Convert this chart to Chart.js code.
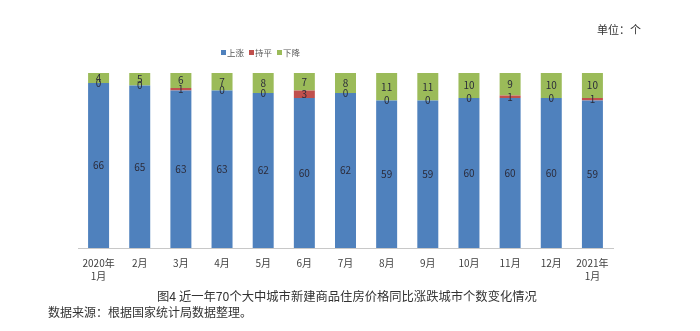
<!DOCTYPE html>
<html>
<head>
<meta charset="utf-8">
<script src="https://cdn.jsdelivr.net/npm/chart.js@4"></script>
<style>
  body { margin: 0; background: #fff; font-family: "Noto Sans CJK SC", sans-serif; }
  #wrap { position: relative; width: 700px; height: 331px; overflow: hidden; }
  #unit { position: absolute; left: 597px; top: 21px; font-size: 11px; color: #333; }
  #legend { position: absolute; left: 221px; top: 46px; font-size: 8.5px; color: #595959; display: flex; }
  #legend span { display: flex; align-items: center; margin-right: 5px; }
  #legend i { display: inline-block; width: 5px; height: 5px; margin-right: 1px; }
  #caption { position: absolute; left: 157px; top: 287px; font-size: 12.3px; color: #333; }
  #source { position: absolute; left: 48px; top: 303px; font-size: 12px; color: #333; }
</style>
</head>
<body>
<div id="wrap">
  <canvas id="grafico" width="700" height="331"></canvas>
  <div id="unit">单位：个</div>
  <div id="legend"></div>
  <div id="caption">图4 近一年70个大中城市新建商品住房价格同比涨跌城市个数变化情况</div>
  <div id="source">数据来源：根据国家统计局数据整理。</div>
</div>
<script>
const meses = [['2020年', '1月'], '2月', '3月', '4月', '5月', '6月', '7月', '8月', '9月', '10月', '11月', '12月', ['2021年', '1月']];
const subida = [66, 65, 63, 63, 62, 60, 62, 59, 59, 60, 60, 60, 59];
const igual = [0, 0, 1, 0, 0, 3, 0, 0, 0, 0, 1, 0, 1];
const bajada = [4, 5, 6, 7, 8, 7, 8, 11, 11, 10, 9, 10, 10];

const series = [
    { label: '上涨', data: subida, color: '#4F81BD' },
    { label: '持平', data: igual, color: '#C0504D' },
    { label: '下降', data: bajada, color: '#9BBB59' }
];

// leyenda en html
document.getElementById('legend').innerHTML = series
    .map(s => `<span><i style="background:${s.color}"></i>${s.label}</span>`).join('');

// etiquetas de datos centradas en cada segmento
const etiquetas = {
    id: 'etiquetas',
    afterDatasetsDraw(chart) {
        const ctx = chart.ctx;
        ctx.save();
        ctx.font = '10px "Noto Sans CJK SC", sans-serif';
        ctx.fillStyle = '#2b2b3a';
        ctx.textAlign = 'center';
        ctx.textBaseline = 'middle';
        chart.data.datasets.forEach((ds, i) => {
            chart.getDatasetMeta(i).data.forEach((bar, j) => {
                const { x, y, base } = bar.getProps(['x', 'y', 'base'], true);
                ctx.fillText(ds.data[j], x, (y + base) / 2);
            });
        });
        ctx.restore();
    }
};

new Chart(document.getElementById('grafico').getContext('2d'), {
    type: 'bar',
    data: {
        labels: meses,
        datasets: series.map(s => ({
            label: s.label,
            data: s.data,
            backgroundColor: s.color,
            barPercentage: 0.51,
            categoryPercentage: 1
        }))
    },
    options: {
        responsive: false,
        animation: false,
        layout: { padding: { left: 78, right: 87, top: 73, bottom: 0 } },
        plugins: {
            legend: { display: false },
            tooltip: { enabled: false }
        },
        scales: {
            x: {
                stacked: true,
                grid: { display: false },
                border: { display: true, color: '#c8c8c8' },
                ticks: {
                    color: '#404040',
                    font: { size: 10, family: '"Noto Sans CJK SC", sans-serif', lineHeight: 1.3 },
                    padding: 1,
                    maxRotation: 0,
                    autoSkip: false
                },
                afterFit: s => { s.height = 83; }
            },
            y: {
                stacked: true,
                display: false,
                min: 0,
                max: 70
            }
        }
    },
    plugins: [etiquetas]
});
</script>
</body>
</html>
